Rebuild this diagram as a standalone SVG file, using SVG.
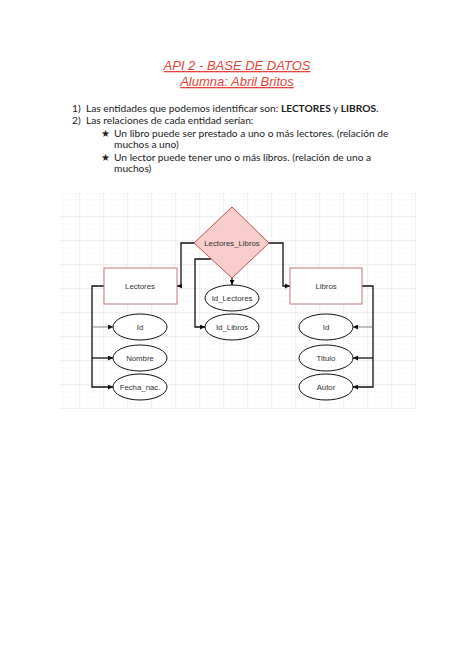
<svg xmlns="http://www.w3.org/2000/svg" width="474" height="669" viewBox="0 0 474 669">
<defs>
<style>
.title{font-family:"Liberation Sans",Arial,sans-serif;font-size:13px;font-style:italic;fill:#e2453a;text-decoration:underline;text-anchor:middle}
.body{font-family:Lato,"Open Sans",sans-serif;font-size:10.2px;fill:#222}
.lbl{font-family:"Liberation Sans",Arial,sans-serif;font-size:7.8px;fill:#333;text-anchor:middle;dominant-baseline:central}
.ent{fill:#fff;stroke:#c07a78;stroke-width:1}
.attr{fill:#fff;stroke:#111;stroke-width:1}
.rel{fill:#f8cecc;stroke:#b85450;stroke-width:1}
.con{fill:none;stroke:#111;stroke-width:1.3}
.con.light{stroke:#777;stroke-width:0.9}
</style>
<marker id="arr" viewBox="0 0 10 10" refX="10" refY="5" markerWidth="5" markerHeight="5" markerUnits="userSpaceOnUse" orient="auto">
<path d="M0,0 L10,5 L0,10 Z" fill="#111"/>
</marker>
<pattern id="minor" x="8" y="1" width="6" height="6" patternUnits="userSpaceOnUse">
<path d="M6,0 V6 M0,6 H6" fill="none" stroke="#f0f0f0" stroke-width="0.6"/>
</pattern>
<pattern id="major" x="8" y="1" width="24" height="24" patternUnits="userSpaceOnUse">
<rect width="24" height="24" fill="url(#minor)"/>
<path d="M24,0 V24 M0,24 H24" fill="none" stroke="#dcdcdc" stroke-width="0.8"/>
</pattern>
</defs>
<rect width="474" height="669" fill="#fff"/>

<g id="header">
<text class="title" x="237" y="70">API 2 - BASE DE DATOS</text>
<text class="title" x="237" y="86">Alumna: Abril Britos</text>
</g>

<g id="list" class="body">
<text x="72" y="112">1)</text>
<text x="86" y="112">Las entidades que podemos identificar son: <tspan font-weight="bold">LECTORES</tspan> y <tspan font-weight="bold">LIBROS</tspan>.</text>
<text x="72" y="124">2)</text>
<text x="86" y="124">Las relaciones de cada entidad serían:</text>
<text x="101" y="137">★</text>
<text x="114" y="137">Un libro puede ser prestado a uno o más lectores. (relación de</text>
<text x="114" y="148">muchos a uno)</text>
<text x="101" y="161">★</text>
<text x="114" y="161">Un lector puede tener uno o más libros. (relación de uno a</text>
<text x="114" y="172">muchos)</text>
</g>

<rect id="canvas" x="59" y="193" width="358" height="216" fill="url(#major)"/>

<g id="connectors">
<path class="con" d="M194,243 H181 V286 H177" marker-end="url(#arr)"/>
<path class="con" d="M269,243 H283 V286 H290" marker-end="url(#arr)"/>
<path class="con" d="M232,278 V285" marker-end="url(#arr)"/>
<path class="con" d="M211,259 H195 V327 H205" marker-end="url(#arr)"/>
<path class="con" d="M104,286 H92 V387 H113" marker-end="url(#arr)"/>
<path class="con" d="M92,358 H113" marker-end="url(#arr)"/>
<path class="con light" d="M92,327 H113" marker-end="url(#arr)"/>
<path class="con" d="M362,286 H373 V387 H353" marker-end="url(#arr)"/>
<path class="con" d="M373,358 H353" marker-end="url(#arr)"/>
<path class="con light" d="M373,327 H353" marker-end="url(#arr)"/>
</g>

<g id="rel-lectores-libros">
<polygon class="rel" points="232,207 269,243 232,278 194,243"/>
<text class="lbl" x="232" y="243">Lectores_Libros</text>
</g>
<g id="ent-lectores">
<rect class="ent" x="104" y="268" width="73" height="36"/>
<text class="lbl" x="140" y="286">Lectores</text>
</g>
<g id="ent-libros">
<rect class="ent" x="290" y="268" width="72" height="36"/>
<text class="lbl" x="326" y="286">Libros</text>
</g>
<g id="attr-id-lectores">
<ellipse class="attr" cx="232" cy="298" rx="27" ry="13"/>
<text class="lbl" x="232" y="298">Id_Lectores</text>
</g>
<g id="attr-id-libros">
<ellipse class="attr" cx="232" cy="327" rx="27" ry="13"/>
<text class="lbl" x="232" y="327">Id_Libros</text>
</g>
<g id="attr-lectores-id">
<ellipse class="attr" cx="140" cy="327" rx="27" ry="13"/>
<text class="lbl" x="140" y="327">Id</text>
</g>
<g id="attr-lectores-nombre">
<ellipse class="attr" cx="140" cy="358" rx="27" ry="13"/>
<text class="lbl" x="140" y="358">Nombre</text>
</g>
<g id="attr-lectores-fecha">
<ellipse class="attr" cx="140" cy="387" rx="27" ry="13"/>
<text class="lbl" x="140" y="387">Fecha_nac.</text>
</g>
<g id="attr-libros-id">
<ellipse class="attr" cx="326" cy="327" rx="27" ry="13"/>
<text class="lbl" x="326" y="327">Id</text>
</g>
<g id="attr-libros-titulo">
<ellipse class="attr" cx="326" cy="358" rx="27" ry="13"/>
<text class="lbl" x="326" y="358">Titulo</text>
</g>
<g id="attr-libros-autor">
<ellipse class="attr" cx="326" cy="387" rx="27" ry="13"/>
<text class="lbl" x="326" y="387">Autor</text>
</g>
</svg>
